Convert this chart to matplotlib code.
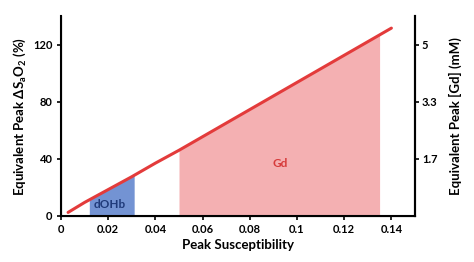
import matplotlib
matplotlib.use('Agg')
import matplotlib.pyplot as plt
import numpy as np

plt.rcParams['font.family'] = ['Lato', 'DejaVu Sans']
plt.rcParams['mathtext.fontset'] = 'custom'
plt.rcParams['mathtext.rm'] = 'Lato'
plt.rcParams['mathtext.bf'] = 'Lato:bold'

# Kurve: Suszeptibilitaet gegen aequivalentes Delta SaO2
susc = [0.003, 0.01, 0.02, 0.03, 0.04, 0.05, 0.06, 0.07, 0.08, 0.09,
        0.10, 0.11, 0.12, 0.13, 0.14]
sao2 = [2.5, 9.5, 18.5, 27.5, 37.0, 46.0, 55.5, 65.0, 74.5, 84.0,
        93.5, 103.0, 112.5, 122.0, 131.5]

# Bereiche
dohb_range = (0.012, 0.031)
gd_range = (0.05, 0.135)

left_ticks = [0, 40, 80, 120]
right_ticks = [40, 80, 120]
right_labels = ['1.7', '3.3', '5']
x_ticks = [0, 0.02, 0.04, 0.06, 0.08, 0.1, 0.12, 0.14]
x_labels = ['0', '0.02', '0.04', '0.06', '0.08', '0.1', '0.12', '0.14']

fig = plt.figure(figsize=(4.74, 2.62), dpi=100)
ax = fig.add_axes([0.1287, 0.1756, 0.7468, 0.7634])

def fill_between_range(lo, hi, color):
    xs = np.linspace(lo, hi, 50)
    ys = np.interp(xs, susc, sao2)
    ax.fill_between(xs, 0, ys, color=color, lw=0)

fill_between_range(*dohb_range, '#7393d3')
fill_between_range(*gd_range, '#f4b0b2')
ax.plot(susc, sao2, color='#e33b3b', lw=2.2, solid_capstyle='round')

ax.text(0.0207, 8, 'dOHb', color='#1f3a7a', fontsize=8.5, fontweight='bold',
        ha='center', va='center')
ax.text(0.093, 37, 'Gd', color='#d63a3a', fontsize=8.5, fontweight='bold',
        ha='center', va='center')

ax.set_xlim(0, 0.15)
ax.set_ylim(0, 140)
ax.set_xticks(x_ticks)
ax.set_xticklabels(x_labels)
ax.set_yticks(left_ticks)
for lbl in ax.get_xticklabels() + ax.get_yticklabels():
    lbl.set_fontweight('bold')
    lbl.set_fontsize(8)
ax.spines['top'].set_visible(False)
for s in ['left', 'bottom', 'right']:
    ax.spines[s].set_linewidth(1.5)
ax.tick_params(width=1.2, length=3, pad=3)
ax.set_xlabel('Peak Susceptibility', fontsize=9.5, fontweight='bold', labelpad=3)
ax.set_ylabel(r'Equivalent Peak ΔS$_\mathbf{a}$O$_\mathbf{2}$ (%)', fontsize=9.5,
              fontweight='bold', labelpad=4)

ax2 = ax.twinx()
ax2.set_ylim(0, 140)
ax2.set_yticks(right_ticks)
ax2.set_yticklabels(right_labels, fontsize=8, fontweight='bold')
ax2.spines['top'].set_visible(False)
ax2.spines['right'].set_linewidth(1.5)
ax2.tick_params(width=1.2, length=3, pad=2)
ax2.set_ylabel('Equivalent Peak [Gd] (mM)', fontsize=9.5, fontweight='bold',
               labelpad=8)

fig.savefig('out.png', dpi=100)
